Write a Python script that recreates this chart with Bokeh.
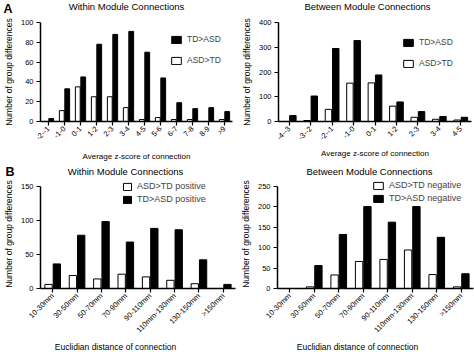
import math
from bokeh.plotting import figure
from bokeh.models import Range1d, FactorRange, FixedTicker, Legend, LegendItem, Label
from bokeh.transform import dodge
from bokeh.layouts import column, row
from bokeh.embed import file_html
from bokeh.resources import INLINE

FONT = "Liberation Sans"

# ---- data ----
a_within_cats = ["-2--1", "-1-0", "0-1", "1-2", "2-3", "3-4", "4-5", "5-6", "6-7", "7-8", "8-9", ">9"]
a_within_td = [3, 33, 45, 78, 88, 91, 70, 44, 19, 13, 14, 10]
a_within_asd = [0, 11, 35, 25, 25, 14, 2, 4, 2, 2, 0, 2]

a_between_cats = ["-4--3", "-3--2", "-2--1", "-1-0", "0-1", "1-2", "2-3", "3-4", "4-5"]
a_between_td = [24, 103, 295, 327, 188, 79, 40, 20, 17]
a_between_asd = [0, 4, 49, 155, 156, 62, 17, 9, 6]

b_cats = ["10-30mm", "30-50mm", "50-70mm", "70-90mm", "90-110mm", "110mm-130mm", "130-150mm", ">150mm"]
b_within_asd = [6, 19, 14, 21, 17, 12, 7, 0]
b_within_td = [36, 78, 98, 68, 88, 86, 42, 6]
b_between_asd = [0, 4, 33, 66, 71, 94, 34, 4]
b_between_td = [0, 56, 132, 200, 162, 200, 125, 36]

a_yticks_w = [0, 20, 40, 60, 80, 100]
a_yticks_b = [0, 100, 200, 300, 400]
b_yticks_w = [0, 50, 100, 150]
b_yticks_b = [0, 50, 100, 150, 200, 250]

Y_LABEL = "Number of group differences"
X_LABEL_A = "Average z-score of connection"
X_LABEL_B = "Euclidian distance of connection"


def text_strip(w, h, texts):
    """A strip of plain text; y is measured from the top of the strip."""
    p = figure(width=w, height=h, x_range=Range1d(0, w), y_range=Range1d(h, 0),
               x_axis_type=None, y_axis_type=None, output_backend="svg",
               toolbar_location=None, min_border=0, title=None)
    p.outline_line_color = None
    p.grid.visible = False
    p.background_fill_color = "white"
    p.border_fill_color = "white"
    for (x, y, t, size, align, bold) in texts:
        p.add_layout(Label(x=x, y=y, text=t, text_font=FONT, text_font_size=size,
                           text_align=align, text_baseline="middle", text_color="black",
                           text_font_style="bold" if bold else "normal"))
    return p


def panel(cats, white, black, white_label, black_label, legend_first_black,
          ymax, yend, yticks, w, h, bl, br, bt, bb, leg_loc, xlabel=None,
          leg_spacing=11, glyph_w=12, glyph_h=9, leg_font="8.5px", xfont="7.5px"):
    p = figure(width=w, height=h, x_range=FactorRange(factors=cats),
               y_range=Range1d(0, yend), output_backend="svg", toolbar_location=None,
               title=None,
               min_border_left=bl, min_border_right=br, min_border_top=bt,
               min_border_bottom=bb)
    p.outline_line_color = None
    p.grid.visible = False
    p.background_fill_color = "white"
    p.border_fill_color = "white"

    src = dict(x=cats, w=white, b=black)
    rw = p.vbar(x=dodge("x", -0.17, range=p.x_range), top="w", width=0.3, source=src,
                fill_color="white", line_color="black", line_width=1)
    rb = p.vbar(x=dodge("x", 0.17, range=p.x_range), top="b", width=0.3, source=src,
                fill_color="black", line_color="black", line_width=1)

    for ax in (p.xaxis[0], p.yaxis[0]):
        ax.axis_line_width = 1.5
        ax.axis_line_color = "black"
        ax.major_tick_line_width = 1.2
        ax.major_tick_out = 4
        ax.major_tick_in = 0
        ax.minor_tick_out = 0
        ax.minor_tick_in = 0
        ax.major_label_text_font = FONT
        ax.major_label_text_color = "black"
        ax.axis_label_text_font = FONT
        ax.axis_label_text_font_style = "normal"
        ax.axis_label_text_font_size = "8px"
        ax.axis_label_text_color = "black"

    p.yaxis.major_label_text_font_size = "7.5px"
    p.xaxis.major_label_text_font_size = xfont
    p.yaxis.ticker = FixedTicker(ticks=yticks)
    p.yaxis.bounds = (0, ymax)
    p.yaxis.axis_label = Y_LABEL
    p.yaxis.axis_label_text_font_size = "8.5px"
    p.yaxis.axis_label_standoff = 4
    p.yaxis.major_label_standoff = 3
    p.xaxis.major_label_orientation = math.pi / 4
    p.xaxis.major_label_standoff = 2
    p.xaxis.axis_label_standoff = 4
    if xlabel:
        p.xaxis.axis_label = xlabel

    items_black = LegendItem(label=black_label, renderers=[rb])
    items_white = LegendItem(label=white_label, renderers=[rw])
    items = [items_black, items_white] if legend_first_black else [items_white, items_black]
    leg = Legend(items=items, location=leg_loc, padding=0, margin=0, spacing=leg_spacing,
                 glyph_width=glyph_w, glyph_height=glyph_h, label_height=glyph_h,
                 label_standoff=5, label_text_font=FONT, label_text_font_size=leg_font,
                 background_fill_alpha=0, border_line_alpha=0)
    p.add_layout(leg)
    return p


# row 1: panel letter A and titles
t1a = text_strip(237, 18, [(3, 8.5, "A", "12.5px", "left", True),
                           (126, 5.5, "Within Module Connections", "9.5px", "center", False)])
t1b = text_strip(237, 18, [(130, 5.5, "Between Module Connections", "9.5px", "center", False)])

# row 2: panel A charts
p1 = panel(a_within_cats, a_within_asd, a_within_td, "ASD>TD", "TD>ASD", True,
           100, 100, a_yticks_w, 237, 146, 35, 5, 4, 41, (130, 56), xlabel=X_LABEL_A)
p2 = panel(a_between_cats, a_between_asd, a_between_td, "ASD>TD", "TD>ASD", True,
           400, 400, a_yticks_b, 237, 146, 41, 3, 4, 41, (124, 53), xlabel=X_LABEL_A)

# row 3: panel letter B and titles
t2a = text_strip(237, 14, [(5, 7.5, "B", "12.5px", "left", True),
                           (125, 7, "Within Module Connections", "9.5px", "center", False)])
t2b = text_strip(237, 14, [(132, 7, "Between Module Connections", "9.5px", "center", False)])

# row 4: panel B charts
p3 = panel(b_cats, b_within_asd, b_within_td, "ASD>TD positive", "TD>ASD positive", False,
           150, 159.6, b_yticks_w, 237, 162, 35, 2, 1, 50, (82, 84), leg_spacing=3,
           glyph_w=10, leg_font="9px", xfont="7.5px")
p4 = panel(b_cats, b_between_asd, b_between_td, "ASD>TD negative", "TD>ASD negative", False,
           250, 266.1, b_yticks_b, 237, 162, 40, 1, 1, 50, (95, 85), leg_spacing=3,
           glyph_w=12, glyph_h=9, leg_font="9px", xfont="7.5px")

# row 5: x-axis titles of panel B
t3a = text_strip(237, 12, [(115, 6, X_LABEL_B, "8.5px", "center", False)])
t3b = text_strip(237, 12, [(120, 6, X_LABEL_B, "8.5px", "center", False)])

layout = column(row(t1a, t1b), row(p1, p2), row(t2a, t2b), row(p3, p4), row(t3a, t3b))
open("out.html", "w").write(file_html(layout, INLINE))
